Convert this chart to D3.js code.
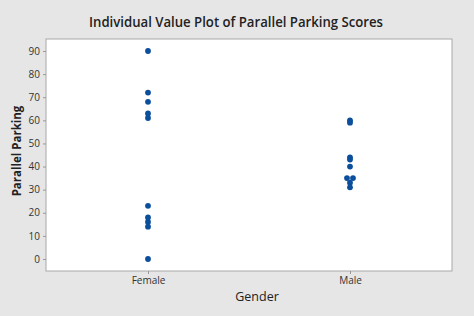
<!DOCTYPE html>
<html><head><meta charset="utf-8">
<script src="https://cdn.jsdelivr.net/npm/d3@7"></script>
<style>body{margin:0;background:#e6e6e6;}svg{display:block;}</style>
</head><body>
<svg id="c" width="474" height="316"></svg>
<script>
const title = "Individual Value Plot of Parallel Parking Scores";
const categories = ["Female", "Male"];
const femaleScores = [90, 72, 68, 63, 61, 23, 18, 16, 14, 0];
const maleScores = [60, 59, 44, 43, 40, 35, 35, 33, 31];
const yTicks = [0, 10, 20, 30, 40, 50, 60, 70, 80, 90];
const xLabel = "Gender";
const yLabel = "Parallel Parking";

const W = 474, H = 316;
const plot = {left: 46, top: 39, right: 452, bottom: 271};
const svg = d3.select("#c");
svg.append("rect").attr("width", W).attr("height", H).attr("fill", "#e6e6e6");
svg.append("rect").attr("x", plot.left).attr("y", plot.top)
  .attr("width", plot.right - plot.left).attr("height", plot.bottom - plot.top)
  .attr("fill", "#fff").attr("stroke", "#a8a8a8").attr("stroke-width", 1);

const x = d3.scalePoint().domain(categories).range([148, 350]);
const y = d3.scaleLinear().domain([0, 90]).range([259, 51]);

const font = "'Open Sans', 'DejaVu Sans', sans-serif";
const yAxis = svg.append("g").attr("transform", `translate(${plot.left},0)`)
  .call(d3.axisLeft(y).tickValues(yTicks).tickSize(3).tickPadding(3));
yAxis.select(".domain").remove();
yAxis.selectAll("line").attr("stroke", "#999");
yAxis.selectAll("text").attr("font-family", font).attr("font-size", 10).attr("fill", "#333");

const xAxis = svg.append("g").attr("transform", `translate(0,${plot.bottom})`)
  .call(d3.axisBottom(x).tickSize(3).tickPadding(3));
xAxis.select(".domain").remove();
xAxis.selectAll("line").attr("stroke", "#999");
xAxis.selectAll("text").attr("font-family", font).attr("font-size", 10).attr("fill", "#333");

const groups = [femaleScores, maleScores];
const pts = [];
groups.forEach((arr, gi) => {
  const counts = {};
  arr.forEach(v => { counts[v] = (counts[v] || 0) + 1; });
  const seen = {};
  arr.forEach(v => {
    const n = counts[v], k = (seen[v] = (seen[v] || 0) + 1) - 1;
    pts.push({cat: categories[gi], v, dx: (k - (n - 1) / 2) * 6});
  });
});
svg.append("g").selectAll("circle").data(pts).join("circle")
  .attr("cx", d => x(d.cat) + d.dx).attr("cy", d => y(d.v))
  .attr("r", 2.9).attr("fill", "#0b4f9c");

svg.append("text").attr("x", 236).attr("y", 27).attr("text-anchor", "middle")
  .attr("font-family", font).attr("font-size", 14.5).attr("font-weight", 600)
  .attr("textLength", 294).attr("lengthAdjust", "spacingAndGlyphs")
  .attr("fill", "#222").text(title);
svg.append("text").attr("x", 257).attr("y", 301).attr("text-anchor", "middle")
  .attr("font-family", font).attr("font-size", 12.5).attr("fill", "#222").text(xLabel);
svg.append("text").attr("transform", "translate(21,151) rotate(-90)").attr("text-anchor", "middle")
  .attr("font-family", font).attr("font-size", 11.5).attr("font-weight", 700)
  .attr("fill", "#222").text(yLabel);
</script>
</body></html>
